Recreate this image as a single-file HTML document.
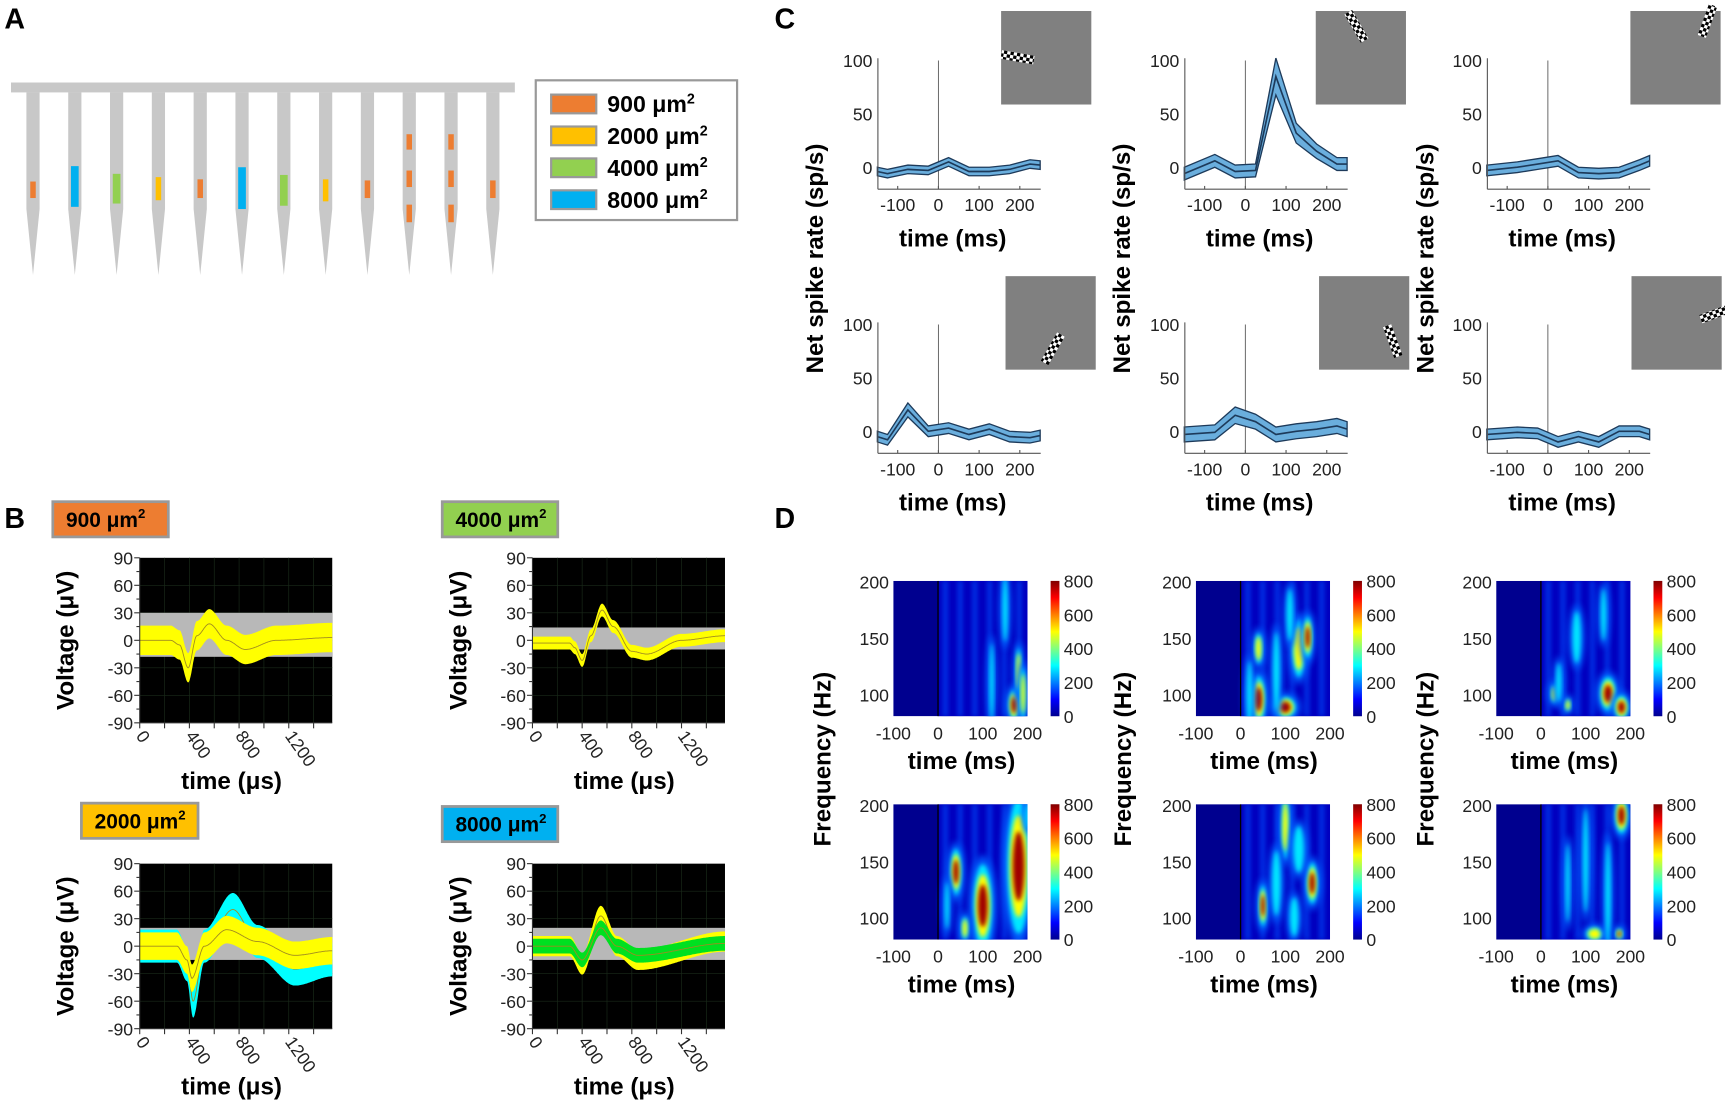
<!DOCTYPE html>
<html><head><meta charset="utf-8">
<style>
html,body{margin:0;padding:0;background:#fff;}
svg{display:block;font-family:"Liberation Sans",sans-serif;}
.t{font-size:16px;fill:#222;}
.b{font-weight:bold;fill:#000;}
</style></head><body>
<svg id="s" width="1725" height="1109" viewBox="0 0 1568 1008" preserveAspectRatio="none" xmlns="http://www.w3.org/2000/svg">
<defs>
<linearGradient id="jet" x1="0" y1="1" x2="0" y2="0">
<stop offset="0" stop-color="#00008f"/><stop offset="0.125" stop-color="#0000ff"/><stop offset="0.375" stop-color="#00ffff"/><stop offset="0.625" stop-color="#ffff00"/><stop offset="0.875" stop-color="#ff0000"/><stop offset="1" stop-color="#800000"/>
</linearGradient>
<filter id="bl" x="-50%" y="-50%" width="200%" height="200%"><feGaussianBlur stdDeviation="3"/></filter>
<filter id="bl2" x="-50%" y="-50%" width="200%" height="200%"><feGaussianBlur stdDeviation="2"/></filter>
<pattern id="chk" width="6" height="6" patternUnits="userSpaceOnUse"><rect width="6" height="6" fill="#fff"/><rect width="3" height="3" fill="#000"/><rect x="3" y="3" width="3" height="3" fill="#000"/></pattern>
</defs>
<g id="g"></g>
</svg>
<script>
const g=document.getElementById('g');let h='';
const T=(x,y,s,o='')=>{h+=`<text x="${x}" y="${y}" ${o}>${s}</text>`;};
T(4,26,'A','class="b" font-size="26"');T(4,480,'B','class="b" font-size="26"');
T(704,26,'C','class="b" font-size="26"');T(704,480,'D','class="b" font-size="26"');
h+=`<rect x="10" y="75" width="458" height="9" fill="#c8c8c8"/>`;
const sx=[30,68,106,144,182,220,258,296,334,372,410,448];
sx.forEach(x=>{h+=`<polygon points="${x-6},84 ${x+6},84 ${x+6},190 ${x},250 ${x-6},190" fill="#c8c8c8"/>`;});
const O='#ED7D31',Y='#FFC000',G='#92D050',B='#00B0F0';
const cont=[[0,O,165,180],[1,B,151,188],[2,G,158,185],[3,Y,161,182],[4,O,163,180],[5,B,152,190],[6,G,159,187],[7,Y,163,183],[8,O,164,180],[11,O,164,180]];
cont.forEach(c=>{const w=c[1]==B?7:(c[1]==G?7:5);h+=`<rect x="${sx[c[0]]-w/2}" y="${c[2]}" width="${w}" height="${c[3]-c[2]}" fill="${c[1]}"/>`;});
[9,10].forEach(i=>{[[122,136],[155,170],[186,202]].forEach(r=>{h+=`<rect x="${sx[i]-2.5}" y="${r[0]}" width="5" height="${r[1]-r[0]}" fill="${O}"/>`;});});
h+=`<rect x="487" y="73" width="183" height="127" fill="#fff" stroke="#999" stroke-width="2"/>`;
[[O,'900'],[Y,'2000'],[G,'4000'],[B,'8000']].forEach((e,i)=>{const y=86+i*29;h+=`<rect x="501" y="${y}" width="41" height="17" fill="${e[0]}" stroke="#999" stroke-width="2"/>`;T(552,y+16,`${e[1]} μm<tspan font-size="13" dy="-8">2</tspan>`,'class="b" font-size="21"');});
function tag(x,y,w,c,s){h+=`<rect x="${x}" y="${y}" width="${w}" height="32" fill="${c}" stroke="#999" stroke-width="2.5"/>`;T(x+12,y+23,`${s} μm<tspan font-size="12" dy="-8">2</tspan>`,'class="b" font-size="19"');}
tag(48,456,105,O,'900');tag(402,456,105,G,'4000');tag(74,730,106,Y,'2000');tag(402,733,105,B,'8000');
function interp(p,t){for(let i=0;i<p.length-1;i++){if(t<=p[i+1][0]){const a=p[i],b=p[i+1];let u=(t-a[0])/(b[0]-a[0]);u=u*u*(3-2*u);return a[1]+(b[1]-a[1])*u;}}return p[p.length-1][1];}
function wave(x0,y0,bands,gray){
 const W=175,H=150,X=t=>x0+t*W/1550,Yv=v=>y0+(90-v)*H/180;
 h+=`<rect x="${x0}" y="${y0}" width="${W}" height="${H}" fill="#000"/>`;
 for(let i=1;i<6;i++){h+=`<line x1="${x0}" x2="${x0+W}" y1="${y0+i*H/6}" y2="${y0+i*H/6}" stroke="#1a2a1a" stroke-width="0.6"/>`;}
 for(let i=1;i<8;i++){h+=`<line y1="${y0}" y2="${y0+H}" x1="${x0+i*W/7.75}" x2="${x0+i*W/7.75}" stroke="#1a2a1a" stroke-width="0.6"/>`;}
 h+=`<rect x="${x0}" y="${Yv(gray[1])}" width="${W}" height="${Yv(gray[0])-Yv(gray[1])}" fill="#b8b8b8"/>`;
 bands.forEach(b=>{let up=[],dn=[];for(let t=0;t<=1550;t+=5){const m=interp(b.p,t);up.push(X(t).toFixed(1)+','+Yv(m+b.w/2).toFixed(1));dn.unshift(X(t).toFixed(1)+','+Yv(m-b.w/2).toFixed(1));}
  h+=`<polygon points="${up.join(' ')} ${dn.join(' ')}" fill="${b.c}"/>`;
  let ln=[];for(let t=0;t<=1550;t+=5)ln.push(X(t).toFixed(1)+','+Yv(interp(b.p,t)).toFixed(1));
  h+=`<polyline points="${ln.join(' ')}" fill="none" stroke="#a08a20" stroke-width="0.8"/>`;});
 [90,60,30,0,-30,-60,-90].forEach(v=>{T(x0-6,Yv(v)+6,v,'class="t" text-anchor="end" font-size="17"');h+=`<line x1="${x0-5}" x2="${x0}" y1="${Yv(v)}" y2="${Yv(v)}" stroke="#333"/>`;});
 for(let v=-75;v<90;v+=30)h+=`<line x1="${x0-3}" x2="${x0}" y1="${Yv(v)}" y2="${Yv(v)}" stroke="#333"/>`;
 h+=`<line x1="${x0}" x2="${x0}" y1="${y0}" y2="${y0+H}" stroke="#333"/><line x1="${x0}" x2="${x0+W}" y1="${y0+H}" y2="${y0+H}" stroke="#333"/>`;
 for(let t=0;t<=1550;t+=200)h+=`<line x1="${X(t)}" x2="${X(t)}" y1="${y0+H}" y2="${y0+H+5}" stroke="#333"/>`;
 [0,400,800,1200].forEach(t=>T(X(t)-4,y0+H+12,t,`class="t" font-size="17" transform="rotate(55 ${X(t)-4} ${y0+H+12})"`));
 T(x0+W/2-4,y0+H+60,'time (μs)','class="b" font-size="22" text-anchor="middle"');
 T(0,0,'Voltage (μV)',`class="b" font-size="22" text-anchor="middle" transform="translate(${x0-60} ${y0+H/2}) rotate(-90)"`);
}
wave(127,507,[{c:'#ffff00',w:32,p:[[0,0],[250,0],[320,-5],[390,-30],[460,5],[560,18],[700,0],[850,-10],[1100,0],[1550,3]]}],[-18,30]);
wave(484,507,[{c:'#ffff00',w:14,p:[[0,-3],[300,-3],[340,-8],[400,-22],[470,5],[560,33],[650,15],[800,-12],[920,-15],[1200,0],[1550,5]]}],[-10,14]);
wave(127,785,[{c:'#00ffff',w:36,p:[[0,0],[300,0],[380,-20],[430,-60],[520,0],[750,40],[950,5],[1250,-25],[1550,-15]]},{c:'#ffff00',w:30,p:[[0,0],[300,0],[380,-15],[420,-35],[520,0],[700,18],[950,5],[1250,-10],[1550,-5]]}],[-15,20]);
wave(484,785,[{c:'#ffff00',w:22,p:[[0,0],[300,0],[400,-20],[550,33],[680,0],[850,-15],[1550,5]]},{c:'#00e020',w:16,p:[[0,0],[300,0],[400,-15],[550,20],[680,0],[850,-10],[1550,3]]}],[-15,20]);
const cx=[798,1077,1352],cy=[152,392];
const data=[
[[[-150,-4],[-125,-6],[-75,-2],[-25,-3],[25,5],[75,-4],[125,-4],[175,-2],[225,3],[250,2]],4],
[[[-150,-6],[-75,6],[-25,-4],[25,-3],[75,85],[125,32],[175,15],[225,3],[250,3]],6],
[[[-150,-3],[-75,0],[-25,3],[25,6],[75,-5],[125,-6],[175,-5],[225,2],[250,6]],5],
[[[-150,-5],[-125,-8],[-75,20],[-25,0],[25,3],[75,-3],[125,2],[175,-5],[225,-6],[250,-4]],5],
[[[-150,-3],[-75,-1],[-25,15],[25,9],[75,-3],[125,0],[175,2],[225,5],[250,2]],7],
[[[-150,-3],[-75,-1],[-25,-2],[25,-10],[75,-5],[125,-10],[175,0],[225,0],[250,-3]],5]];
const ins=[[910,10],[1196,10],[1482,10],[914,251],[1199,251],[1483,251]];
data.forEach((d,k)=>{const r=Math.floor(k/3),c=k%3,x0=cx[c],z=cy[r];const X=t=>x0+55+t*0.37,Yv=v=>z-v*0.97;
 let up=[],dn=[],ln=[];d[0].forEach(p=>{const w=d[1]+Math.max(0,p[1]-10)*0.15;up.push(X(p[0])+','+Yv(p[1]+w));dn.unshift(X(p[0])+','+Yv(p[1]-w));ln.push(X(p[0])+','+Yv(p[1]));});
 h+=`<line x1="${X(0)}" x2="${X(0)}" y1="${z-97}" y2="${z+20}" stroke="#555" stroke-width="0.8"/>`;
 h+=`<polygon points="${up.join(' ')} ${dn.join(' ')}" fill="#6aaedd" stroke="#1d3a5a" stroke-width="1.2"/>`;
 h+=`<polyline points="${ln.join(' ')}" fill="none" stroke="#1d3a5a" stroke-width="1.5"/>`;
 h+=`<line x1="${x0}" x2="${x0}" y1="${z-99}" y2="${z+20}" stroke="#555"/><line x1="${x0}" x2="${x0+148}" y1="${z+20}" y2="${z+20}" stroke="#555"/>`;
 [100,50,0].forEach(v=>T(x0-5,Yv(v)+6,v,'class="t" text-anchor="end"'));
 [-100,0,100,200].forEach(t=>{T(X(t),z+40,t,'class="t" text-anchor="middle"');h+=`<line x1="${X(t)}" x2="${X(t)}" y1="${z+20}" y2="${z+17}" stroke="#555"/>`;});
 T(x0+68,z+72,'time (ms)','class="b" font-size="22" text-anchor="middle"');
 const [ix,iy]=ins[k];h+=`<rect x="${ix}" y="${iy}" width="82" height="85" fill="#808080"/>`;
 const rot=[-170,-120,-70,-60,-110,-20][k],pos=[[0,38],[22,10],[55,5],[28,62],[52,55],[62,30]][k];
 h+=`<rect x="${ix+pos[0]}" y="${iy+pos[1]}" width="30" height="8" fill="url(#chk)" transform="rotate(${rot<-90?rot+180:rot} ${ix+pos[0]+15} ${iy+pos[1]+4})"/>`;
});
[748,1027,1303].forEach(x=>T(0,0,'Net spike rate (sp/s)',`class="b" font-size="22" text-anchor="middle" transform="translate(${x} 235) rotate(-90)"`));
const hx=[812,1087,1360],hy=[528,731];
const blobs=[
[[170,90,10,12,3],[150,175,5,25,1],[180,120,5,18,2],[120,110,4,30,1],[190,100,5,20,2]],
[[40,95,13,18,3],[100,88,20,8,3],[130,140,12,22,2],[150,150,8,16,3],[40,140,7,12,2],[80,120,6,30,1],[110,170,6,20,1],[20,100,5,25,1]],
[[30,100,6,7,2],[150,100,15,13,3],[180,88,13,9,3],[60,90,5,5,2],[80,150,8,20,1],[40,110,5,15,1],[140,170,5,20,1]],
[[40,140,10,18,3],[100,110,18,32,3],[180,145,22,52,3],[200,190,4,10,1],[20,110,4,18,1],[60,90,6,9,2]],
[[50,110,7,16,3],[160,130,10,16,3],[100,180,7,25,2],[80,130,8,25,1],[130,160,10,18,1],[120,100,8,15,1]],
[[180,190,12,14,3],[120,85,16,5,2],[100,150,5,40,1],[150,120,5,40,1],[60,130,4,30,1],[175,85,6,4,3]]];
const col=['#00e8ff','#ffff00','#a00000'];
blobs.forEach((bb,k)=>{const r=Math.floor(k/3),c=k%3,x0=hx[c],y0=hy[r],W=122,H=123;const X=t=>x0+(t+100)/300*W,Yf=f=>y0+(200-f)/120*H;
 h+=`<clipPath id="cp${k}"><rect x="${x0}" y="${y0}" width="${W}" height="${H}"/></clipPath>`;
 h+=`<g clip-path="url(#cp${k})"><rect x="${x0}" y="${y0}" width="${W}" height="${H}" fill="#00008f"/>`;
 h+=`<rect x="${X(0)}" y="${y0}" width="${W-X(0)+x0}" height="${H}" fill="#0000c0"/>`;
 for(let s=0;s<6;s++){h+=`<rect x="${X(15+s*33)-2}" y="${y0}" width="5" height="${H}" fill="#0040f0" opacity="0.7" filter="url(#bl2)"/>`;}
 bb.forEach(b=>{const ex=X(b[0]),ey=Yf(b[1]),rx=b[2]*W/300,ry=b[3]*H/120;
  h+=`<ellipse cx="${ex}" cy="${ey}" rx="${rx*1.4+3}" ry="${ry*1.3+3}" fill="#0060ff" filter="url(#bl)" opacity="0.85"/>`;
  for(let l=0;l<b[4];l++){const s=1.15-l*0.28;h+=`<ellipse cx="${ex}" cy="${ey}" rx="${rx*s}" ry="${ry*s}" fill="${col[l]}" filter="url(#bl2)"/>`;}
 });
 h+=`<line x1="${X(0)}" x2="${X(0)}" y1="${y0}" y2="${y0+H}" stroke="#000" stroke-width="1.2"/></g>`;
 [200,150,100].forEach(f=>T(x0-4,Yf(f)+7,f,'class="t" font-size="18" text-anchor="end"'));
 [-100,0,100,200].forEach(t=>T(X(t),y0+H+21,t,'class="t" font-size="18" text-anchor="middle"'));
 T(x0+62,y0+H+48,'time (ms)','class="b" font-size="22" text-anchor="middle"');
 const bx=x0+143;h+=`<rect x="${bx}" y="${y0}" width="8" height="${H}" fill="url(#jet)"/>`;
 [800,600,400,200,0].forEach((v,i)=>T(bx+12,y0+i*H/4+6,v,'class="t" font-size="17"'));
});
[755,1028,1303].forEach(x=>T(0,0,'Frequency (Hz)',`class="b" font-size="22" text-anchor="middle" transform="translate(${x} 690) rotate(-90)"`));
g.innerHTML=h;
</script>
</body></html>
